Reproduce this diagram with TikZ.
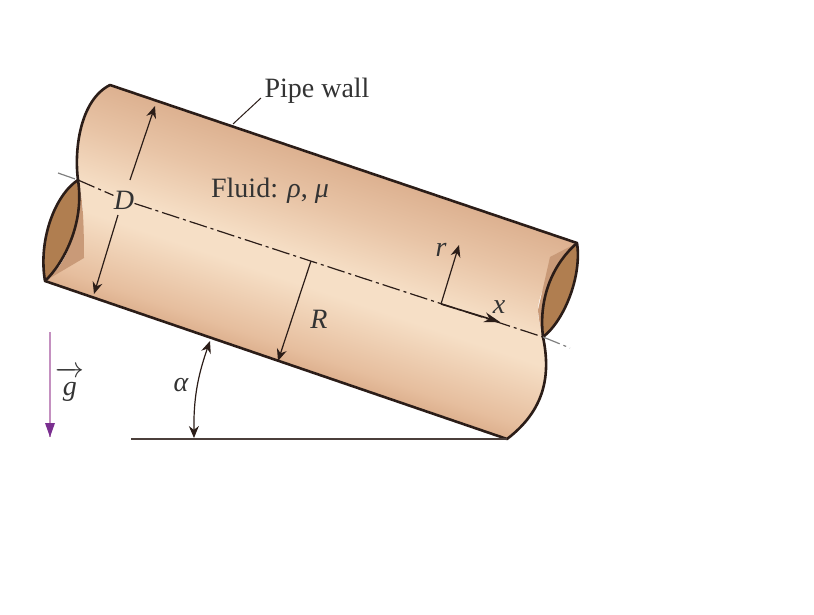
\documentclass[tikz,border=0pt]{standalone}
\usepackage{fontspec}
\setmainfont{Liberation Serif}
\usetikzlibrary{arrows.meta}
\definecolor{wallline}{HTML}{2B1D18}
\definecolor{lensbrown}{HTML}{B07E50}
\definecolor{flapbrown}{HTML}{C99A78}
\definecolor{gline}{HTML}{C490C0}
\definecolor{gtip}{HTML}{7A2F90}
\definecolor{pipebot}{HTML}{C48A62}
\definecolor{pipelow}{HTML}{E6BE9E}
\definecolor{pipemid}{HTML}{F6DFC6}
\definecolor{pipeup}{HTML}{E8C4A6}
\definecolor{pipetop}{HTML}{CF9A76}
\pgfdeclareverticalshading{pipeshade}{100bp}{
  color(0bp)=(pipebot);
  color(31bp)=(pipebot);
  color(39bp)=(pipelow);
  color(47bp)=(pipemid);
  color(50bp)=(pipemid);
  color(57bp)=(pipeup);
  color(70bp)=(pipetop);
  color(100bp)=(pipetop)}
\tikzset{
  wall/.style={draw=wallline,line width=1.3pt,line join=round},
  axisline/.style={line width=0.6pt,dash pattern=on 9pt off 2pt on 1.5pt off 2pt},
  dim/.style={draw=wallline,line width=0.6pt,{Stealth[length=6pt,width=5pt]}-{Stealth[length=6pt,width=5pt]}},
  dimone/.style={draw=wallline,line width=0.6pt,-{Stealth[length=6pt,width=5pt]}},
  lab/.style={text=black!80,font=\fontsize{14}{16}\selectfont,inner sep=0pt},
  labi/.style={lab,font=\fontsize{14}{16}\selectfont\itshape}
}
\begin{document}
\begin{tikzpicture}[x=0.5pt,y=-0.5pt]
  \useasboundingbox (0,0) rectangle (814,615);
  % corners of the pipe
  \coordinate (tl) at (110,85);
  \coordinate (tr) at (577,243);
  \coordinate (bl) at (45,281);
  \coordinate (br) at (507,439);
  \coordinate (waistl) at (78,180);
  \coordinate (waistr) at (543,337);
  % body
  \path[shading=pipeshade,shading angle=-18.7]
    (tl) -- (tr) .. controls (552,262) and (538,295) .. (538,310)
    .. controls (538,320) and (541,330) .. (waistr)
    .. controls (551,375) and (545,410) .. (br)
    -- (bl) .. controls (60,270) and (83,260) .. (83,230)
    .. controls (84,205) and (81,192) .. (waistl)
    .. controls (74,150) and (80,100) .. (tl) -- cycle;
  % flaps at the cut ends
  \fill[flapbrown] (waistl) .. controls (81,192) and (84,205) .. (84,258)
    -- (bl) .. controls (70,262) and (80,225) .. (waistl) -- cycle;
  \fill[flapbrown] (tr) -- (550,257) -- (538,310) .. controls (539,322) and (541,330) .. (waistr)
    .. controls (541,300) and (555,265) .. (tr) -- cycle;
  % cut ends
  \draw[wall,fill=lensbrown] (waistl) .. controls (55,195) and (38,240) .. (bl)
    .. controls (62,265) and (85,225) .. (waistl) -- cycle;
  \draw[wall,fill=lensbrown] (tr) .. controls (582,275) and (565,320) .. (waistr)
    .. controls (538,295) and (555,262) .. (tr) -- cycle;
  % outline
  \draw[wall] (waistl) .. controls (74,150) and (80,100) .. (tl) -- (tr);
  \draw[wall] (waistr) .. controls (551,375) and (545,410) .. (br) -- (bl);
  % ground line and axis
  \coordinate (gndl) at (131,439);
  \coordinate (axl) at (58,173);
  \coordinate (axr) at (570,348);
  \draw[wallline!85,line width=0.7pt] (gndl) -- (br);
  \node[labi] (dlab) at (124,200) {D};
  \draw[axisline,draw=black!50] (axl) -- (waistl);
  \draw[axisline,draw=wallline] (waistl) -- (dlab);
  \draw[axisline,draw=wallline] (dlab) -- (waistr);
  \draw[axisline,draw=black!50] (waistr) -- (axr);
  % dimensions
  \coordinate (dtop) at (155,106);
  \coordinate (dbot) at (94,294);
  \coordinate (da) at (130,180);
  \coordinate (db) at (118,215);
  \draw[dimone] (da) -- (dtop);
  \draw[dimone] (db) -- (dbot);
  \coordinate (rs) at (311,261);
  \coordinate (re) at (278,361);
  \draw[dimone] (rs) -- (re);
  \node[labi] (rlab) at (319,319) {R};
  \coordinate (org) at (441,304);
  \coordinate (rtip) at (459,245);
  \coordinate (xtip) at (500,322);
  \draw[dimone] (org) -- (rtip);
  \draw[draw=wallline,line width=0.8pt,-{Stealth[length=8pt,width=5pt]}] (org) -- (xtip);
  \node[labi] (rr) at (441,250) {r};
  \node[labi] (xx) at (499,307) {x};
  % labels
  \node[lab] (pipe) at (317,91) {Pipe wall};
  \coordinate (leadw) at (233,124);
  \coordinate (leadp) at (261,98);
  \draw[wallline,line width=0.5pt] (leadp) -- (leadw);
  \node[lab] (fluid) at (270,191) {Fluid: {\itshape ρ}, {\itshape μ}};
  % inclination
  \coordinate (aup) at (210,341);
  \coordinate (adn) at (194,438);
  \draw[dim] (adn) to[bend left=10] (aup);
  \node[labi] (alab) at (181,385) {α};
  % gravity
  \coordinate (gs) at (50,332);
  \coordinate (ge) at (50,437);
  \draw[gline,line width=0.9pt] (gs) -- (ge);
  \fill[gtip] (ge) -- ++(-5,-14) -- ++(10,0) -- cycle;
  \node[lab] (glab) at (70,384) {$\overrightarrow{\mbox{\itshape g}\vphantom{h}}$};
\end{tikzpicture}
\end{document}
